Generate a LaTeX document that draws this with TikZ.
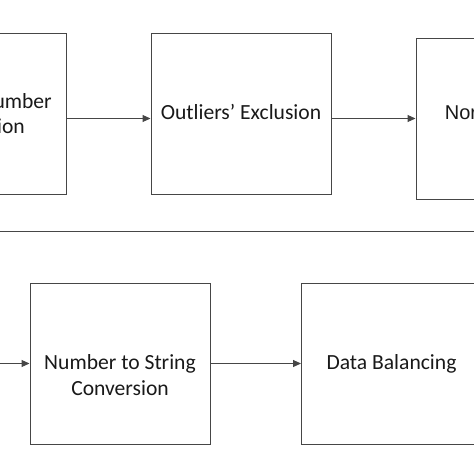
\documentclass[tikz,border=0pt]{standalone}
\usepackage{fontspec}
\setmainfont{Carlito}
\newfontfamily\arialfont{Liberation Sans}
\usetikzlibrary{positioning,arrows.meta}
\definecolor{linegray}{RGB}{70,70,70}
\newcommand{\lowered}[2]{\raisebox{#1}[\height][\depth]{\begin{tabular}{@{}c@{}}#2\end{tabular}}}

\begin{document}
\begin{tikzpicture}[x=1pt,y=1pt,node distance=265pt,on grid,
    >={Triangle[length=8pt,width=7pt]}]
    \tikzset{stage/.style={draw=linegray,line width=1pt,rectangle,minimum width=180pt,minimum height=161pt,align=center,text=black!90,font=\fontsize{21.6}{25.5}\selectfont}}
    \tikzset{flow/.style={->,draw=linegray,line width=1pt}}
    \useasboundingbox (0,0) rectangle (474,-474);
    \clip (0,0) rectangle (474,-474);
    % top row
    \node[stage] (outl) at (241,-113.5) {\lowered{-1pt}{Outliers’ Exclusion}};
    \node[stage] (strnum) [left = of outl] {String to Number\\Conversion};
    \node[stage,font=\arialfont\fontsize{20}{24}\selectfont] (norm) [right = of outl,yshift=-5pt] {\lowered{4pt}{Normalization}};

    \draw[flow] (strnum.east |- norm.west) -- (outl.west |- norm.west);
    \draw[flow] (outl.east |- norm.west) -- (norm.west);

    % separator
    \coordinate (sepL) at (0,-231);
    \coordinate (sepR) at (474,-231);
    \draw[linegray,line width=1pt] (sepL) -- (sepR);

    % bottom row
    \node[stage] (numstr) at (120,-363.5) {\lowered{-14pt}{Number to String\\Conversion}};
    \node[stage] (bal) [right = 271.5pt of numstr] {Data Balancing};
    \coordinate (prev) at (-5,-363.5);

    \draw[flow] (prev) -- (numstr.west);
    \draw[flow] (numstr) -- (bal);
\end{tikzpicture}
\end{document}
